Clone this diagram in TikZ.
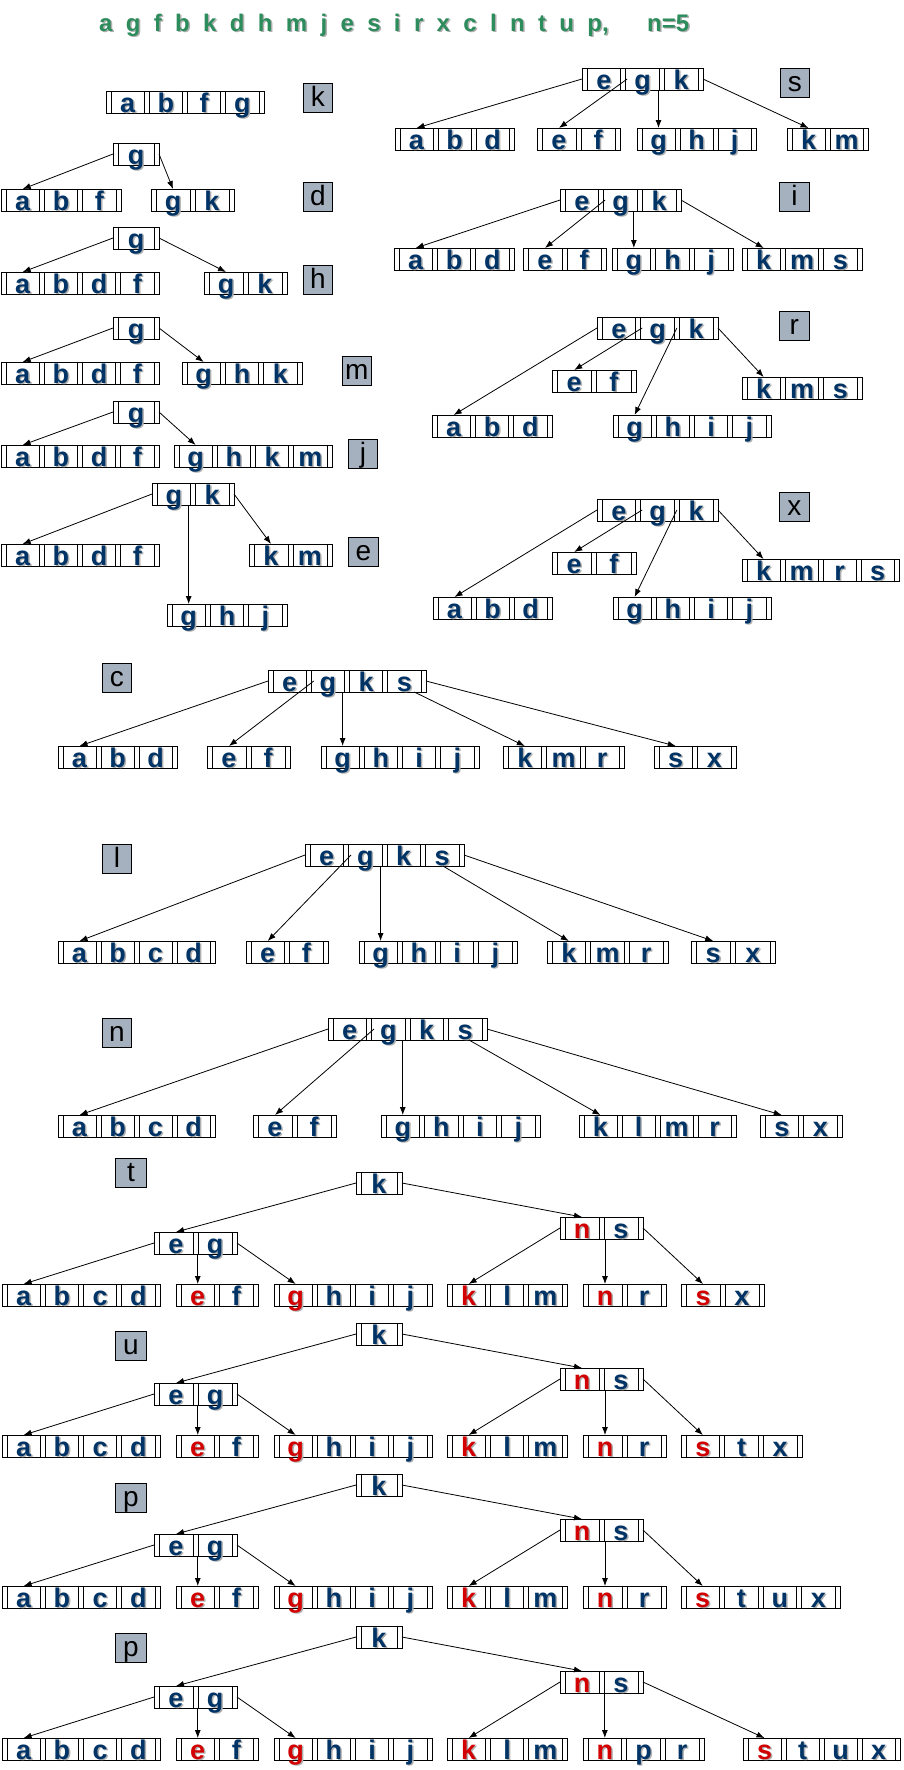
\documentclass[tikz,border=0pt]{standalone}
\usepackage{fontspec}
\setmainfont{Liberation Sans}
\usetikzlibrary{arrows.meta,calc}
\definecolor{keyblue}{RGB}{0,51,102}
\definecolor{keyred}{RGB}{210,0,0}
\definecolor{labfill}{RGB}{166,177,192}
\definecolor{titlegreen}{RGB}{44,140,92}
\definecolor{shade}{RGB}{175,175,175}
\newcommand\R[1]{\textcolor{keyred}{#1}}
\newcommand\keyfnt{\bfseries\fontsize{27}{27}\selectfont}
\newcommand\labfnt{\fontsize{28}{28}\selectfont}
\newcommand\titlefnt{\bfseries\fontsize{24}{24}\selectfont}
\newcommand\tsp{\hspace{0.556em}}
\tikzset{
 boxline/.style={draw=black, line width=0.9pt},
 keytext/.style={font=\keyfnt, text=keyblue, anchor=base, inner sep=0pt},
 keyshadow/.style={font=\keyfnt, text=shade, anchor=base, inner sep=0pt},
 arr/.style={draw=black, line width=0.8pt, -{Latex[length=8pt,width=6pt]}},
 labbox/.style={draw=black, line width=0.8pt, fill=labfill, inner sep=0pt, anchor=north west},
 labtext/.style={font=\labfnt, text=black, anchor=base, inner sep=0pt},
}
% #1 name, #2 x left, #3 y top, #4 total width, #5 keys
\newcommand\bnode[5]{%
  \foreach \kk [count=\ii] in {#5} {\xdef\bncount{\ii}}%
  \pgfmathsetmacro\bnk{(#4 - 5*(\bncount+1))/\bncount}%
  \draw[boxline] (#2,#3) rectangle ++(#4,22);
  \foreach \ii in {0,...,\bncount} {%
    \pgfmathsetmacro\sx{#2 + \ii*(\bnk+5)}%
    \draw[boxline] (\sx,#3) -- ++(0,22) (\sx+5,#3) -- ++(0,22);
    \coordinate (#1-s\ii) at (\sx+2.5,#3+11);
    \coordinate (#1-b\ii) at (\sx+2.5,#3+22);
  }%
  \coordinate (#1-w) at (#2,#3+11);
  \coordinate (#1-e) at (#2+#4,#3+11);
  \foreach \kk [count=\ii] in {#5} {%
    \pgfmathsetmacro\cx{#2 + \ii*5 + (\ii-0.5)*\bnk}%
    \coordinate (#1-k\ii) at (\cx,#3);
    \node[keyshadow] at (\cx+1.5,#3+22.7) {\let\R\relax\kk};
    \node[keytext] (#1-t\ii) at (\cx,#3+21.2) {\kk};
  }%
}
% #1 name, #2 x, #3 y top, #4 width, #5 letter
\newcommand\lab[5]{%
  \node[labbox, minimum width=#4pt, minimum height=29pt] (#1) at (#2,#3) {};
  \node[labtext] (#1-txt) at ($(#1.south)+(0,-6)$) {#5};
}
% lower trees: fixed part
\newcommand\ktree[2]{%
  \bnode{#1r}{356}{#2}{46}{k}
  \bnode{#1L}{154}{#2+60}{83}{e,g}
  \bnode{#1R}{560}{#2+45}{83}{\R{n},s}
  \bnode{#1a}{2}{#2+112}{158}{a,b,c,d}
  \bnode{#1b}{176}{#2+112}{82}{\R{e},f}
  \bnode{#1c}{274}{#2+112}{158}{\R{g},h,i,j}
  \bnode{#1d}{447}{#2+112}{120}{\R{k},l,m}
}
\newcommand\ktreearrows[1]{%
  \draw[arr] (#1r-w) -- (#1L-k1);
  \draw[arr] (#1r-e) -- (#1R-k1);
  \draw[arr] (#1L-w) -- (#1a-k1);
  \draw[arr] (#1b-k1 |- #1L-b1) -- (#1b-k1);
  \draw[arr] (#1L-e) -- (#1c-k1);
  \draw[arr] (#1R-w) -- (#1d-k1);
  \draw[arr] (#1e-k1 |- #1R-b1) -- (#1e-k1);
  \draw[arr] (#1R-e) -- (#1f-k1);
}
\begin{document}
\begin{tikzpicture}[x=1pt,y=-1pt]
\useasboundingbox (0,0) rectangle (903,1770);
\fill[white] (0,0) rectangle (903,1770);

% title
\node[anchor=base west, font=\titlefnt, text=shade, inner sep=0pt] at (100.5,32.5)
  {a\tsp g\tsp f\tsp b\tsp k\tsp d\tsp h\tsp m\tsp j\tsp e\tsp s\tsp i\tsp r\tsp x\tsp c\tsp l\tsp n\tsp t\tsp u\tsp p,};
\node[anchor=base west, font=\titlefnt, text=titlegreen, inner sep=0pt] (title) at (99,31)
  {a\tsp g\tsp f\tsp b\tsp k\tsp d\tsp h\tsp m\tsp j\tsp e\tsp s\tsp i\tsp r\tsp x\tsp c\tsp l\tsp n\tsp t\tsp u\tsp p,};
\node[anchor=base west, font=\titlefnt, text=shade, inner sep=0pt] at (648.5,32.5) {n=5};
\node[anchor=base west, font=\titlefnt, text=titlegreen, inner sep=0pt] (nval) at (647,31) {n=5};

% labels
\lab{Lk}{303}{83}{29}{k}
\lab{Ld}{303}{182}{29}{d}
\lab{Lh}{303}{265}{29}{h}
\lab{Lm}{342}{356}{29}{m}
\lab{Lj}{348}{439}{29}{j}
\lab{Le}{348}{537}{30}{e}
\lab{Ls}{780}{68}{29}{s}
\lab{Li}{779}{182}{30}{i}
\lab{Lr}{779}{311}{30}{r}
\lab{Lx}{779}{492}{30}{x}
\lab{Lc}{102}{663}{29}{c}
\lab{Ll}{102}{844}{29}{l}
\lab{Ln}{102}{1018}{29}{n}
\lab{Lt}{115}{1158}{31}{t}
\lab{Lu}{115}{1331}{31}{u}
\lab{Lp}{115}{1483}{31}{p}
\lab{Lq}{115}{1633}{31}{p}

% tree 0
\bnode{ta}{106}{91}{158}{a,b,f,g}

% tree d
\bnode{tdr}{113}{143}{46}{g}
\bnode{tda}{1}{189}{120}{a,b,f}
\bnode{tdb}{151}{189}{83}{g,k}
\draw[arr] (tdr-w) -- (tda-k1);
\draw[arr] (tdr-e) -- (tdb-k1);

% tree h
\bnode{thr}{113}{227}{46}{g}
\bnode{tha}{1}{272}{158}{a,b,d,f}
\bnode{thb}{204}{272}{83}{g,k}
\draw[arr] (thr-w) -- (tha-k1);
\draw[arr] (thr-e) -- (thb-k1);

% tree m
\bnode{tmr}{113}{317}{46}{g}
\bnode{tma}{1}{362}{158}{a,b,d,f}
\bnode{tmb}{182}{362}{120}{g,h,k}
\draw[arr] (tmr-w) -- (tma-k1);
\draw[arr] (tmr-e) -- (tmb-k1);

% tree j
\bnode{tjr}{113}{401}{46}{g}
\bnode{tja}{1}{445}{158}{a,b,d,f}
\bnode{tjb}{174}{445}{158}{g,h,k,m}
\draw[arr] (tjr-w) -- (tja-k1);
\draw[arr] (tjr-e) -- (tjb-k1);

% tree e
\bnode{ter}{152}{483}{82}{g,k}
\bnode{tea}{1}{544}{158}{a,b,d,f}
\bnode{teb}{249}{544}{83}{k,m}
\bnode{tec}{167}{604}{120}{g,h,j}
\draw[arr] (ter-w) -- (tea-k1);
\draw[arr] (tec-k1 |- ter-b1) -- (tec-k1);
\draw[arr] (ter-e) -- (teb-k1);

% tree s
\bnode{tsr}{582}{68}{121}{e,g,k}
\bnode{tsa}{395}{128}{119}{a,b,d}
\bnode{tsb}{537}{128}{83}{e,f}
\bnode{tsc}{637}{128}{119}{g,h,j}
\bnode{tsd}{787}{128}{81}{k,m}
\draw[arr] (tsr-w) -- (tsa-k1);
\draw[arr] ([xshift=4pt]tsr-s1) -- (tsb-k1);
\draw[arr] (tsc-k1 |- tsr-b2) -- (tsc-k1);
\draw[arr] (tsr-e) -- (tsd-k1);

% tree i
\bnode{tir}{560}{189}{121}{e,g,k}
\bnode{tia}{394}{248}{120}{a,b,d}
\bnode{tib}{523}{248}{83}{e,f}
\bnode{tic}{612}{248}{121}{g,h,j}
\bnode{tid}{742}{248}{120}{k,m,s}
\draw[arr] (tir-w) -- (tia-k1);
\draw[arr] ([xshift=4pt]tir-s1) -- (tib-k1);
\draw[arr] (tic-k1 |- tir-b2) -- (tic-k1);
\draw[arr] (tir-e) -- (tid-k1);

% tree r
\bnode{trr}{597}{317}{121}{e,g,k}
\bnode{trb}{552}{370}{84}{e,f}
\bnode{trd}{742}{377}{120}{k,m,s}
\bnode{tra}{432}{415}{120}{a,b,d}
\bnode{trc}{613}{415}{158}{g,h,i,j}
\draw[arr] (trr-w) -- (tra-k1);
\draw[arr] ([xshift=4pt]trr-s1) -- (trb-k1);
\draw[arr] (trr-s2) -- (trc-k1);
\draw[arr] (trr-e) -- (trd-k1);

% tree x
\bnode{txr}{597}{499}{121}{e,g,k}
\bnode{txb}{552}{552}{84}{e,f}
\bnode{txd}{742}{559}{157}{k,m,r,s}
\bnode{txa}{433}{597}{119}{a,b,d}
\bnode{txc}{613}{597}{158}{g,h,i,j}
\draw[arr] (txr-w) -- (txa-k1);
\draw[arr] ([xshift=4pt]txr-s1) -- (txb-k1);
\draw[arr] (txr-s2) -- (txc-k1);
\draw[arr] (txr-e) -- (txd-k1);

% tree c
\bnode{tcr}{268}{670}{158}{e,g,k,s}
\bnode{tca}{58}{746}{119}{a,b,d}
\bnode{tcb}{207}{746}{83}{e,f}
\bnode{tcc}{321}{746}{158}{g,h,i,j}
\bnode{tcd}{503}{746}{121}{k,m,r}
\bnode{tce}{654}{746}{82}{s,x}
\draw[arr] (tcr-w) -- (tca-k1);
\draw[arr] ([xshift=5pt]tcr-s1) -- (tcb-k1);
\draw[arr] (tcc-k1 |- tcr-b2) -- (tcc-k1);
\draw[arr] ([xshift=29pt]tcr-b3) -- (tcd-k1);
\draw[arr] (tcr-e) -- (tce-k1);

% tree l
\bnode{tlr}{305}{844}{159}{e,g,k,s}
\bnode{tla}{58}{941}{157}{a,b,c,d}
\bnode{tlb}{246}{941}{82}{e,f}
\bnode{tlc}{359}{941}{158}{g,h,i,j}
\bnode{tld}{547}{941}{121}{k,m,r}
\bnode{tle}{691}{941}{84}{s,x}
\draw[arr] (tlr-w) -- (tla-k1);
\draw[arr] ([xshift=5pt]tlr-s1) -- (tlb-k1);
\draw[arr] (tlc-k1 |- tlr-b2) -- (tlc-k1);
\draw[arr] ([xshift=20pt]tlr-b3) -- (tld-k1);
\draw[arr] (tlr-e) -- (tle-k1);

% tree n
\bnode{tnr}{328}{1018}{159}{e,g,k,s}
\bnode{tna}{58}{1115}{157}{a,b,c,d}
\bnode{tnb}{253}{1115}{83}{e,f}
\bnode{tnc}{381}{1115}{159}{g,h,i,j}
\bnode{tnd}{579}{1115}{157}{k,l,m,r}
\bnode{tne}{760}{1115}{82}{s,x}
\draw[arr] (tnr-w) -- (tna-k1);
\draw[arr] ([xshift=5pt]tnr-s1) -- (tnb-k1);
\draw[arr] (tnc-k1 |- tnr-b2) -- (tnc-k1);
\draw[arr] ([xshift=23pt]tnr-b3) -- (tnd-k1);
\draw[arr] (tnr-e) -- (tne-k1);

% tree t
\ktree{T}{1172}
\bnode{Te}{583}{1284}{83}{\R{n},r}
\bnode{Tf}{681}{1284}{83}{\R{s},x}
\ktreearrows{T}

% tree u
\ktree{U}{1323}
\bnode{Ue}{583}{1435}{83}{\R{n},r}
\bnode{Uf}{681}{1435}{121}{\R{s},t,x}
\ktreearrows{U}

% tree p
\ktree{P}{1474}
\bnode{Pe}{583}{1586}{83}{\R{n},r}
\bnode{Pf}{681}{1586}{159}{\R{s},t,u,x}
\ktreearrows{P}

% tree p (second)
\ktree{Q}{1626}
\bnode{Qe}{583}{1738}{121}{\R{n},p,r}
\bnode{Qf}{743}{1738}{157}{\R{s},t,u,x}
\ktreearrows{Q}
\end{tikzpicture}
\end{document}
